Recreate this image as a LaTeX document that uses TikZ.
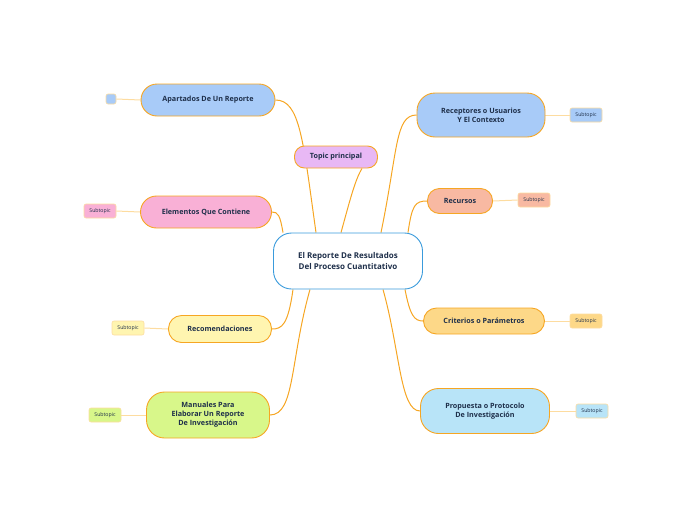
\documentclass[tikz,border=0pt]{standalone}
\usepackage{fontspec}
\setmainfont{Open Sans}
\usetikzlibrary{positioning,backgrounds}
\definecolor{myorange}{HTML}{F6A623}
\definecolor{mylink}{HTML}{FDDCA0}
\definecolor{mytext}{HTML}{1E2F4A}
\definecolor{myblue}{HTML}{A8CBF8}
\definecolor{mypink}{HTML}{F9B0D6}
\definecolor{myyellow}{HTML}{FFF5B0}
\definecolor{mygreen}{HTML}{D8F78A}
\definecolor{mysalmon}{HTML}{F8B9A2}
\definecolor{mygold}{HTML}{FDD888}
\definecolor{mysky}{HTML}{B8E4F8}
\definecolor{myviolet}{HTML}{E8B8F5}
\definecolor{mycentre}{HTML}{3A9BDC}
\tikzset{
  branch/.style={draw=myorange,line width=0.9pt,rounded corners=12pt,align=center,
    text=mytext,font=\fontsize{7.2}{9}\selectfont\bfseries,inner sep=0pt},
  subtopic/.style={draw=mylink,line width=0.6pt,rounded corners=2pt,
    font=\fontsize{5.2}{6}\selectfont,text=mytext,minimum height=14pt,minimum width=32pt,inner sep=1pt},
  link/.style={draw=myorange,line width=1pt},
  sublink/.style={draw=mylink,line width=1pt}
}
\begin{document}
\begin{tikzpicture}[x=1pt,y=-1pt]
  \useasboundingbox (0,0) rectangle (696,520);

  % centre
  \node[branch,draw=mycentre,fill=white,minimum width=149pt,minimum height=56pt,rounded corners=18pt,
    font=\fontsize{8}{10.5}\selectfont\bfseries]
    (centre) at (348,261) {El Reporte De Resultados\\ Del Proceso Cuantitativo};

  % left side
  \node[branch,fill=myblue,minimum width=134pt,minimum height=32pt,rounded corners=16pt]
    (apartados) at (208,100) {Apartados De Un Reporte};
  \node[branch,fill=myviolet,minimum width=83pt,minimum height=22pt,rounded corners=10pt]
    (topic) at (336,157) {Topic principal};
  \node[branch,fill=mypink,minimum width=131pt,minimum height=32pt,rounded corners=16pt]
    (elementos) at (206,212) {Elementos Que Contiene};
  \node[branch,fill=myyellow,minimum width=103pt,minimum height=27pt,rounded corners=13pt]
    (recomend) at (220,329) {Recomendaciones};
  \node[branch,fill=mygreen,minimum width=123pt,minimum height=46pt,rounded corners=18pt]
    (manuales) at (208,415) {Manuales Para\\ Elaborar Un Reporte\\ De Investigación};

  % right side
  \node[branch,fill=myblue,minimum width=128pt,minimum height=44pt,rounded corners=18pt]
    (receptores) at (481,115) {Receptores o Usuarios\\ Y El Contexto};
  \node[branch,fill=mysalmon,minimum width=65pt,minimum height=25pt,rounded corners=12pt]
    (recursos) at (460,201) {Recursos};
  \node[branch,fill=mygold,minimum width=121pt,minimum height=26pt,rounded corners=13pt]
    (criterios) at (484,321) {Criterios o Parámetros};
  \node[branch,fill=mysky,minimum width=129pt,minimum height=45pt,rounded corners=18pt]
    (propuesta) at (485,411) {Propuesta o Protocolo\\ De Investigación};

  % subtopics
  \node[subtopic,fill=myblue,minimum width=10pt,minimum height=10pt,inner sep=0pt] (sub1) at (111,99) {};
  \node[subtopic,fill=mypink] (sub2) at (100,211) {Subtopic};
  \node[subtopic,fill=myyellow] (sub3) at (128,328) {Subtopic};
  \node[subtopic,fill=mygreen] (sub4) at (105,415) {Subtopic};
  \node[subtopic,fill=myblue] (sub5) at (586,115) {Subtopic};
  \node[subtopic,fill=mysalmon] (sub6) at (534,200) {Subtopic};
  \node[subtopic,fill=mygold] (sub7) at (586,321) {Subtopic};
  \node[subtopic,fill=mysky] (sub8) at (592,411) {Subtopic};

  \begin{scope}[on background layer]
    % main branches
    \draw[link] (centre.north -| 316,0) .. controls (303,140) and (300,100) .. (apartados.east);
    \draw[link] (centre.north -| 341,0) .. controls (350,200) and (355,180) .. (topic.south -| 362,0);
    \draw[link] (centre.north -| 283,0) .. controls (280,215) and (278,212) .. (elementos.east);
    \draw[link] (centre.south -| 293,0) .. controls (288,325) and (282,329) .. (recomend.east);
    \draw[link] (centre.south -| 310,0) .. controls (290,360) and (295,415) .. (manuales.east);
    \draw[link] (centre.north -| 381,0) .. controls (398,150) and (395,115) .. (receptores.west);
    \draw[link] (centre.north -| 408,0) .. controls (412,205) and (415,201) .. (recursos.west);
    \draw[link] (centre.south -| 405,0) .. controls (410,315) and (414,321) .. (criterios.west);
    \draw[link] (centre.south -| 383,0) .. controls (400,350) and (400,411) .. (propuesta.west);
    % subtopic links
    \draw[sublink] (apartados.west) -- (sub1.east);
    \draw[sublink] (elementos.west) -- (sub2.east);
    \draw[sublink] (recomend.west) -- (sub3.east);
    \draw[sublink] (manuales.west) -- (sub4.east);
    \draw[sublink] (receptores.east) -- (sub5.west);
    \draw[sublink] (recursos.east) -- (sub6.west);
    \draw[sublink] (criterios.east) -- (sub7.west);
    \draw[sublink] (propuesta.east) -- (sub8.west);
  \end{scope}
\end{tikzpicture}
\end{document}
